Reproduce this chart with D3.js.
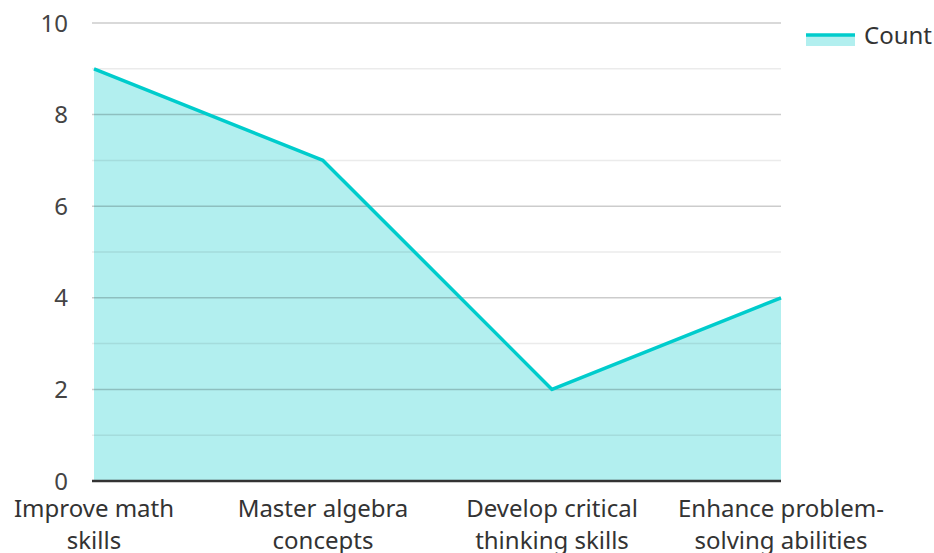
<!DOCTYPE html>
<html><head><meta charset="utf-8">
<script src="https://cdn.jsdelivr.net/npm/d3@7/dist/d3.min.js"></script>
<style>body{margin:0;background:#fff}svg{display:block;font-family:"Noto Sans",sans-serif}</style>
</head><body><svg id="c" width="934" height="553"></svg>
<script>
const categories = [["Improve math","skills"],["Master algebra","concepts"],["Develop critical","thinking skills"],["Enhance problem-","solving abilities"]];
const counts = [9, 7, 2, 4];
const yTicks = [0, 2, 4, 6, 8, 10];
const minorTicks = [1, 3, 5, 7, 9];
const seriesName = "Count";

(function(){
const svg = d3.select("#c");
const pl = 94, pr = 781, pt = 23, pb = 481;
const x = d3.scalePoint().domain(d3.range(categories.length)).range([pl, pr]).padding(0);
const y = d3.scaleLinear().domain([0, 10]).range([pb, pt]);

const data = counts.map((v, i) => ({i, v}));
svg.append("path").datum(data)
  .attr("d", d3.area().x(d => x(d.i)).y0(y(0)).y1(d => y(d.v)))
  .attr("fill", "#b2efef");

svg.append("g").selectAll("line").data(minorTicks).join("line")
  .attr("x1", pl - 2).attr("x2", pr).attr("y1", d => y(d)).attr("y2", d => y(d))
  .attr("stroke", "rgba(0,0,0,0.08)").attr("stroke-width", 1.5);
svg.append("g").selectAll("line").data(yTicks.filter(d => d > 0)).join("line")
  .attr("x1", pl - 2).attr("x2", pr).attr("y1", d => y(d)).attr("y2", d => y(d))
  .attr("stroke", "rgba(0,0,0,0.2)").attr("stroke-width", 1.5);

svg.append("path").datum(data)
  .attr("d", d3.line().x(d => x(d.i)).y(d => y(d.v)))
  .attr("fill", "none").attr("stroke", "#00cccc").attr("stroke-width", 3.5).attr("stroke-linejoin", "round");

svg.append("line").attr("x1", pl - 2).attr("x2", pr).attr("y1", y(0)).attr("y2", y(0))
  .attr("stroke", "#333").attr("stroke-width", 2.5);

svg.append("g").selectAll("text").data(yTicks).join("text")
  .attr("x", 68).attr("y", d => y(d)).attr("dy", "0.36em").attr("text-anchor", "end")
  .attr("font-size", 24).attr("fill", "#444").text(d => d);

const xl = svg.append("g").selectAll("text").data(categories).join("text")
  .attr("text-anchor", "middle").attr("font-size", 24).attr("fill", "#333");
xl.each(function(lines, i) {
  const t = d3.select(this);
  lines.forEach((ln, k) => t.append("tspan").attr("x", x(i)).attr("y", 517 + k * 32).text(ln));
});

const lg = svg.append("g");
lg.append("rect").attr("x", 806).attr("y", 35).attr("width", 49).attr("height", 11).attr("fill", "#b2efef");
lg.append("line").attr("x1", 806).attr("x2", 855).attr("y1", 35).attr("y2", 35).attr("stroke", "#00cccc").attr("stroke-width", 3.5);
lg.append("text").attr("x", 864).attr("y", 35).attr("dy", "0.36em").attr("font-size", 24).attr("fill", "#333").text(seriesName);
})();
</script></body></html>
